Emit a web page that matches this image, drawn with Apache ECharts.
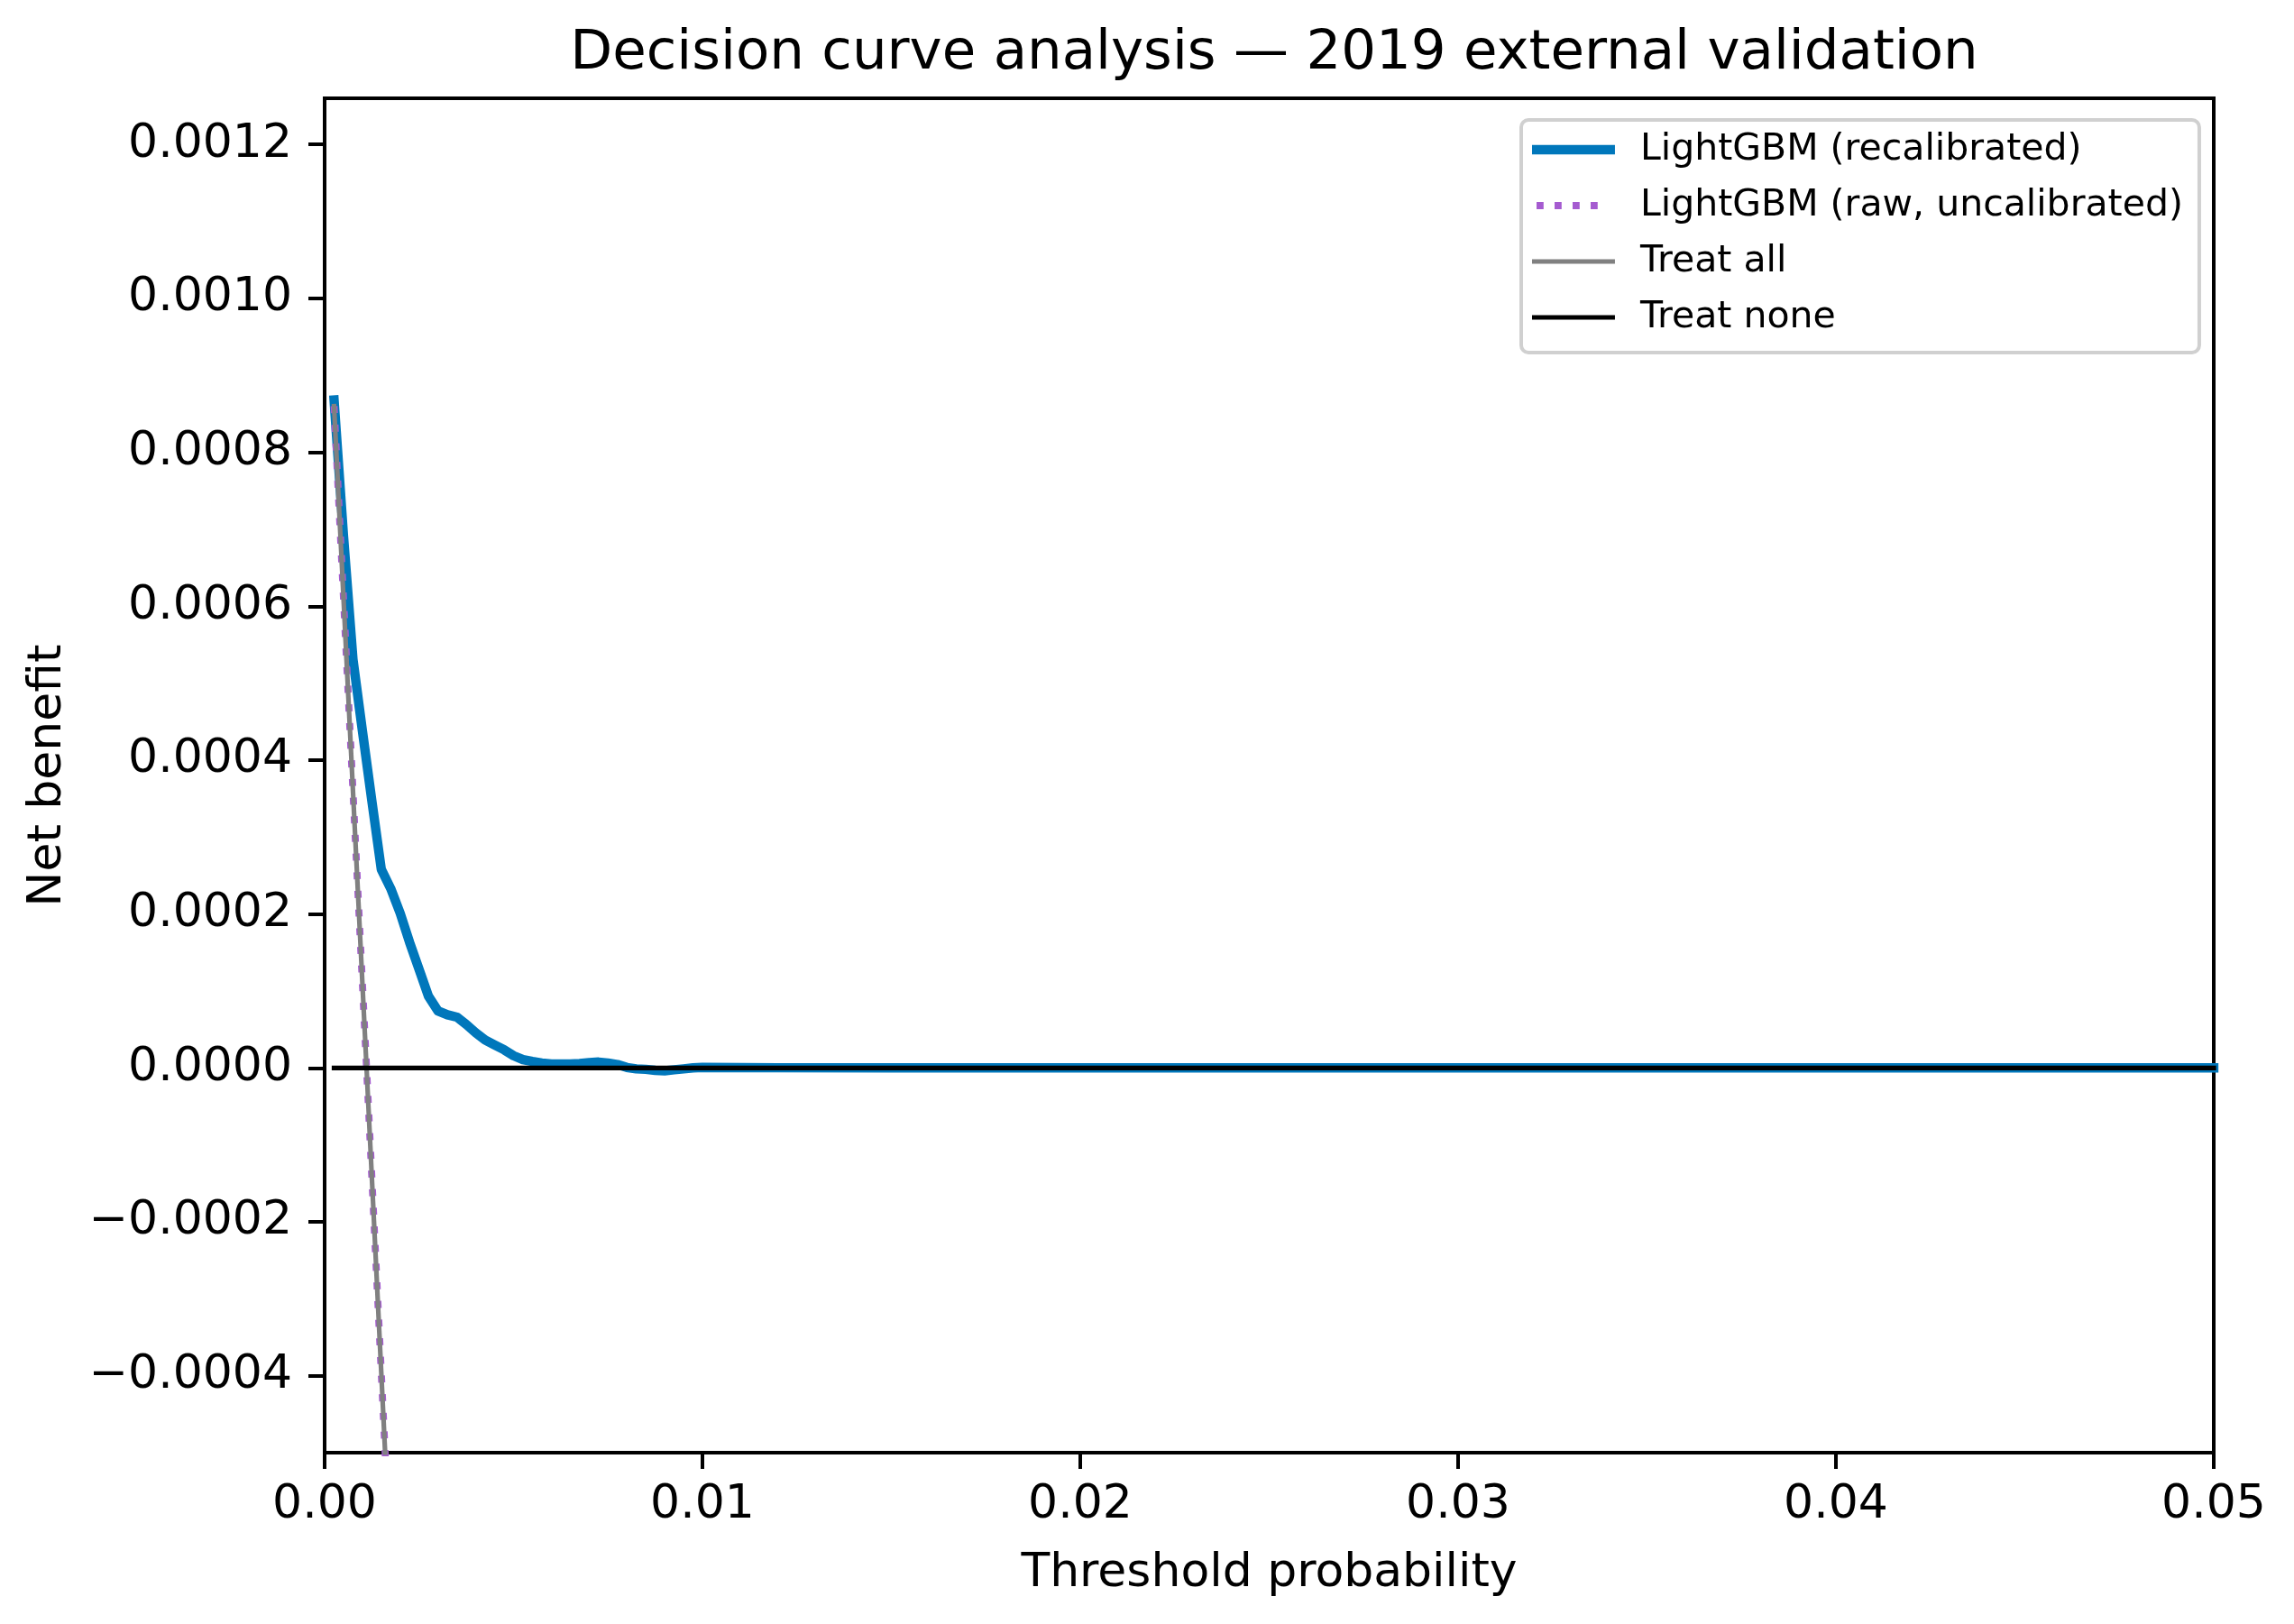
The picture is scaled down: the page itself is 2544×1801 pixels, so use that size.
<!DOCTYPE html>
<html><head><meta charset="utf-8">
<script src="https://cdn.jsdelivr.net/npm/echarts@6/dist/echarts.min.js"></script>
<style>html,body{margin:0;padding:0;background:#fff}#c{width:2544px;height:1801px}</style>
</head><body><div id="c"></div>
<script>
// ---- data ----
const recalThresholds = [0.00025,0.0005,0.00075,0.001,0.00125,0.0015,0.00175,0.002,0.00225,0.0025,0.00275,0.003,0.00325,0.0035,0.00375,0.004,0.00425,0.0045,0.00475,0.005,0.00525,0.0055,0.00575,0.006,0.00625,0.0065,0.00675,0.007,0.00725,0.0075,0.00775,0.008,0.00825,0.0085,0.00875,0.009,0.00925,0.0095,0.00975,0.01,0.011,0.012,0.015,0.02,0.025,0.03,0.035,0.04,0.045,0.05];
const recalNB = [0.000868,0.000691,0.000531,0.000438,0.000347,0.000258,0.000233,0.000201,0.000163,0.000128,0.000093,0.000074,0.000069,0.000066,0.0000565,0.0000457,0.0000362,0.0000298,0.0000235,0.0000159,0.0000108,0.0000083,0.0000063,0.000005,0.000005,0.000005,0.0000057,0.000007,0.0000076,0.0000063,0.0000044,0.0000006,-0.0000013,-0.0000019,-0.0000032,-0.0000038,-0.0000025,-0.0000013,0,0.0000006,0.0000004,0.0000002,0.0000001,0,0,0,0,0,0,0];
const rawThresholds = [0.00025,0.00111,0.0017];
const rawNB = [0.00086,0.0,-0.0006];
const allThresholds = [0.00025,0.00111,0.0017];
const allNB = [0.00086,0.0,-0.0006];
const noneThresholds = [0.00025,0.05];
const noneNB = [0,0];
const yTickValues = [-0.0004,-0.0002,0,0.0002,0.0004,0.0006,0.0008,0.0010,0.0012];
const seriesNames = ['LightGBM (recalibrated)','LightGBM (raw, uncalibrated)','Treat all','Treat none'];

const pairs = (xs, ys) => xs.map((x, i) => [x, ys[i]]);
const fmtY = v => { const s = Math.abs(v) < 1e-12 ? '0.0000' : v.toFixed(4); return s.replace('-', '\u2212'); };

// legend icon shapes (bounding box padded with invisible specks so it is 92x20)
const BOX = 'M0,0h0.01v0.01h-0.01zM92,20h0.01v0.01h-0.01z';
const bar = h => 'path://' + BOX + 'M0,' + (10 - h / 2) + 'h92v' + h + 'h-92z';
const dots = 'path://' + BOX + [5, 25, 45, 65].map(x => 'M' + x + ',6.1h7.8v7.8h-7.8z').join('');

const FONT = 'DejaVu Sans';
const chart = echarts.init(document.getElementById('c'), null, {renderer: 'canvas'});
chart.setOption({
  backgroundColor: '#ffffff',
  animation: false,
  title: {
    text: 'Decision curve analysis \u2014 2019 external validation',
    left: 1408, top: 25, textAlign: 'center',
    textStyle: {fontFamily: FONT, fontSize: 61, fontWeight: 'normal', color: '#000'}
  },
  grid: {left: 360, right: 89, top: 109, bottom: 190, show: true, borderColor: '#000', borderWidth: 4, backgroundColor: 'transparent'},
  legend: {
    orient: 'vertical', left: 1687, top: 133,
    data: [
      {name: seriesNames[0], icon: bar(10.4)},
      {name: seriesNames[1], icon: dots},
      {name: seriesNames[2], icon: bar(5.2)},
      {name: seriesNames[3], icon: bar(5.2)}
    ],
    selectedMode: false,
    itemWidth: 92, itemHeight: 20, itemGap: 20,
    itemStyle: {borderWidth: 0},
    padding: [12, 18, 18, 12],
    backgroundColor: '#fff', borderColor: '#d0d0d0', borderWidth: 4, borderRadius: 8,
    textStyle: {fontFamily: FONT, fontSize: 41, color: '#000', lineHeight: 42, padding: [0, 0, 0, 23]}
  },
  xAxis: {
    type: 'value', min: 0, max: 0.05, interval: 0.01,
    name: 'Threshold probability', nameLocation: 'middle', nameGap: 108,
    nameTextStyle: {fontFamily: FONT, fontSize: 52, color: '#000'},
    axisLine: {show: true, onZero: false, lineStyle: {color: '#000', width: 4}},
    axisTick: {show: true, length: 18, lineStyle: {color: '#000', width: 4}},
    axisLabel: {margin: 32, fontFamily: FONT, fontSize: 52, color: '#000', formatter: v => v.toFixed(2)},
    splitLine: {show: false}
  },
  yAxis: {
    type: 'value', min: -0.0005, max: 0.00126,
    name: 'Net benefit', nameLocation: 'middle', nameGap: 281, nameRotate: 90,
    nameTextStyle: {fontFamily: FONT, fontSize: 52, color: '#000'},
    axisLine: {show: true, onZero: false, lineStyle: {color: '#000', width: 4}},
    axisTick: {show: true, length: 18, customValues: yTickValues, lineStyle: {color: '#000', width: 4}},
    axisLabel: {margin: 36, fontFamily: FONT, fontSize: 52, color: '#000', customValues: yTickValues, formatter: fmtY},
    splitLine: {show: false}
  },
  series: [
    {name: seriesNames[0], type: 'line', data: pairs(recalThresholds, recalNB), symbol: 'none', clip: true, z: 2,
     lineStyle: {color: '#0077BB', width: 10.4, cap: 'square', join: 'round'}, itemStyle: {color: '#0077BB'}},
    {name: seriesNames[1], type: 'line', data: pairs(rawThresholds, rawNB), symbol: 'none', clip: true, z: 3,
     lineStyle: {color: '#A55BD0', width: 7.8, type: [7.8, 12.9], cap: 'butt', join: 'round'}, itemStyle: {color: '#A55BD0'}},
    {name: seriesNames[2], type: 'line', data: pairs(allThresholds, allNB), symbol: 'none', clip: true, z: 4,
     lineStyle: {color: '#808080', width: 5.2, cap: 'square', join: 'round'}, itemStyle: {color: '#808080'}},
    {name: seriesNames[3], type: 'line', data: pairs(noneThresholds, noneNB), symbol: 'none', clip: true, z: 5,
     lineStyle: {color: '#000000', width: 5.2, cap: 'square', join: 'round'}, itemStyle: {color: '#000000'}}
  ]
});
</script></body></html>
